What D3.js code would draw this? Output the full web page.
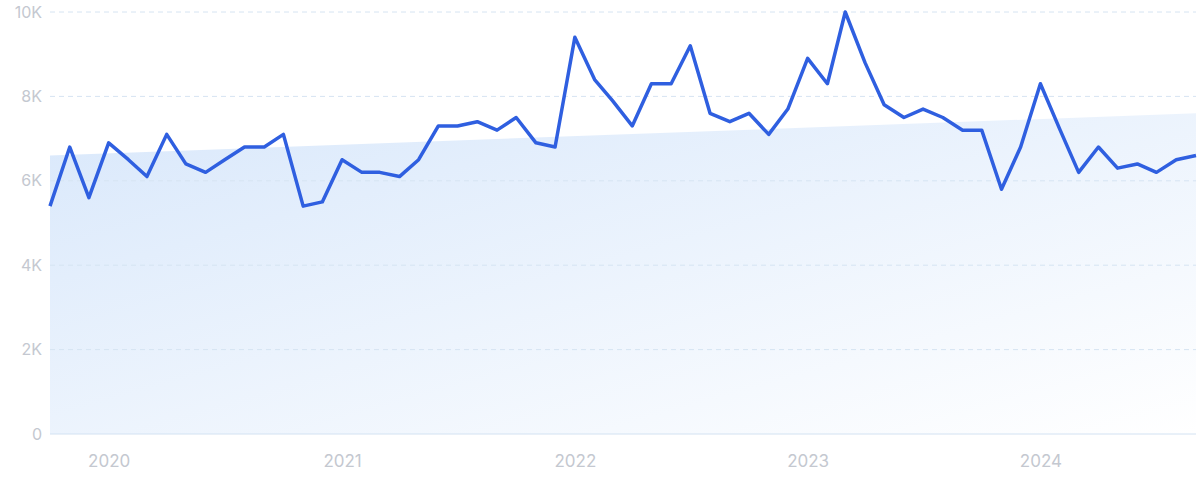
<!DOCTYPE html>
<meta charset="utf-8">
<head>
<style>
body { margin: 0; background: #fff; }
.tick text { font: 16px Inter, "Noto Sans", sans-serif; fill: #c4c8d0; }
.line { fill: none; stroke: #2f5fe0; stroke-width: 3.5; stroke-linejoin: round; }
</style>
</head>
<body>
<svg width="1200" height="499"></svg>
<script src="https://d3js.org/d3.v7.min.js"></script>
<script>

var startMonth = [2019, 9]; // Oct 2019
var values = [5.4, 6.8, 5.6, 6.9, 6.5, 6.1, 7.1, 6.4, 6.2, 6.5, 6.8, 6.8,
  7.1, 5.4, 5.5, 6.5, 6.2, 6.2, 6.1, 6.5, 7.3, 7.3, 7.4, 7.2,
  7.5, 6.9, 6.8, 9.4, 8.4, 7.9, 7.3, 8.3, 8.3, 9.2, 7.6, 7.4,
  7.6, 7.1, 7.7, 8.9, 8.3, 10.0, 8.8, 7.8, 7.5, 7.7, 7.5, 7.2,
  7.2, 5.8, 6.8, 8.3, 7.2, 6.2, 6.8, 6.3, 6.4, 6.2, 6.5, 6.6];
var trend = [6.6, 7.6];
var yTicks = [0, 2, 4, 6, 8, 10];
var yearTicks = [2020, 2021, 2022, 2023, 2024];

var svg = d3.select("svg");
var dates = values.map(function(v, i) { return new Date(startMonth[0], startMonth[1] + i, 1); });

var x = d3.scaleTime().domain([dates[0], dates[dates.length - 1]]).range([50, 1196]);
var y = d3.scaleLinear().domain([0, 10]).range([434, 12]);

var defs = svg.append("defs");
var grad = defs.append("linearGradient").attr("id", "fillg")
    .attr("x1", "0").attr("y1", "0").attr("x2", "1").attr("y2", "1");
grad.append("stop").attr("offset", "0").attr("stop-color", "#d9e8fb");
grad.append("stop").attr("offset", "1").attr("stop-color", "#ffffff");

var n = dates.length - 1;
svg.append("path")
    .attr("fill", "url(#fillg)")
    .attr("d", d3.area()
      .x(function(d) { return x(d.d); })
      .y0(y(0))
      .y1(function(d) { return y(d.v); })([
        { d: dates[0], v: trend[0] },
        { d: dates[n], v: trend[1] }
      ]));

// grid
svg.append("g").selectAll("line")
    .data(yTicks.slice(1))
    .enter().append("line")
      .attr("x1", 50).attr("x2", 1196)
      .attr("y1", function(d) { return y(d); })
      .attr("y2", function(d) { return y(d); })
      .attr("stroke", "#d6e4f2")
      .attr("stroke-dasharray", "5,4");

svg.append("line")
    .attr("x1", 50).attr("x2", 1196)
    .attr("y1", y(0)).attr("y2", y(0))
    .attr("stroke", "#d3e2f2");

var yAxis = svg.append("g")
    .attr("class", "tick-axis")
    .attr("transform", "translate(42,0)")
    .call(d3.axisLeft(y).tickValues(yTicks).tickSize(0).tickPadding(0)
      .tickFormat(function(d) { return d === 0 ? "0" : d + "K"; }));
yAxis.select(".domain").remove();

var xAxis = svg.append("g")
    .attr("transform", "translate(0,462)")
    .call(d3.axisBottom(x).tickValues(yearTicks.map(function(yr) { return new Date(yr, 0, 1); }))
      .tickSize(0).tickPadding(0).tickFormat(d3.timeFormat("%Y")));
xAxis.select(".domain").remove();
xAxis.selectAll("text").attr("dy", "0.32em").style("font-size", "17px");

svg.append("path")
    .attr("class", "line")
    .attr("d", d3.line()
      .x(function(d, i) { return x(dates[i]); })
      .y(function(d) { return y(d); })(values));

</script>
</body>
</html>
